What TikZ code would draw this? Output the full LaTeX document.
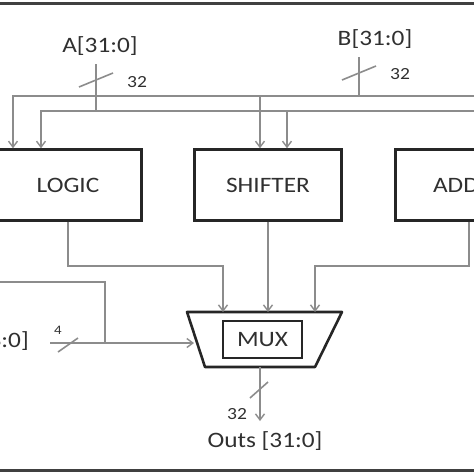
\documentclass[tikz,border=0pt]{standalone}
\usepackage{fontspec}
\setmainfont{Carlito}[FakeStretch=1.15]
\usetikzlibrary{arrows.meta}

\definecolor{wiregray}{HTML}{8C8C8C}
\definecolor{textgray}{HTML}{303030}

\tikzset{
  unit/.style={draw=black!85, line width=2.4pt, minimum width=147pt,
    minimum height=71pt, text=textgray, font=\fontsize{22}{26}\selectfont},
  wire/.style={draw=wiregray, line width=1.6pt},
  bus/.style={wire, -{Straight Barb[length=6pt,width=9pt,line width=1.4pt]}},
  sig/.style={text=textgray, font=\fontsize{22}{26}\selectfont, inner sep=0pt},
  width/.style={text=textgray, font=\fontsize{17}{20}\selectfont, inner sep=0pt}
}

% slash mark on a bus, centred at #1
\newcommand{\busmark}[3]{\draw[wire] (#1) +(-#2pt,-#3pt) -- +(#2pt,#3pt);}

\begin{document}
\begin{tikzpicture}[x=1pt,y=-1pt]

\useasboundingbox (0,0) rectangle (474,474);
\clip (0,0) rectangle (474,474);

% frame lines of the crop
\draw[black!75, line width=3pt] (-5,3) -- (480,3);
\draw[black!75, line width=3pt] (-5,470) -- (480,470);

% function units
\node[unit] (logic) at (68,185) {LOGIC};
\node[unit] (shifter) at (268,185) {SHIFTER};
\node[unit] (adder) at (469,185) {ADDER};

% inputs
\node[sig] (ina) at (100,46) {A[31:0]};
\node[sig] (inb) at (375,39) {B[31:0]};
\node[width] (wa) at (137,82) {32};
\node[width] (wb) at (400,74) {32};

\coordinate (atap) at (96,111);
\coordinate (btap) at (359,96);
\draw[wire] (96,64) -- (atap);
\draw[wire] (359,57) -- (btap);
\busmark{96,80}{17}{7}
\busmark{359,73}{17}{7}

% operand buses
\draw[bus] (490,96) -| ([xshift=-55pt]logic.north);
\draw[bus] (260,96) -- ([xshift=-8pt]shifter.north);
\draw[bus] (490,111) -| ([xshift=-27pt]logic.north);
\draw[bus] (287,111) -- ([xshift=19pt]shifter.north);

% multiplexer
\coordinate (mtl) at (187,312);
\coordinate (mtr) at (342,312);
\coordinate (mbr) at (315,367);
\coordinate (mbl) at (205,367);
\draw[black!85, line width=2.6pt, line join=round]
  (mtl) -- (mtr) -- (mbr) -- (mbl) -- cycle;
\node[draw=black!85, line width=2.4pt, minimum width=79pt, minimum height=37pt,
  text=textgray, font=\fontsize{22}{26}\selectfont] (mux) at (262.5,339.5) {MUX};

% unit outputs into the mux
\draw[bus] (logic.south) |- (223,266) -- (223,312);
\draw[bus] (shifter.south) -- (268,312);
\draw[bus] (adder.south) |- (315,266) -- (315,312);

% select
\node[sig, anchor=east] (sel) at (29,341) {Sel[3:0]};
\node[width, font=\fontsize{13}{15}\selectfont] (ws) at (58,330) {4};
\draw[wire] (-10,282) -| (105,343);
\draw[bus] (50,343) -- (194,343);
\busmark{68,345}{10}{7}

% output
\coordinate (outend) at (260,421);
\draw[bus] (260,367) -- (outend);
\busmark{259,390}{9}{8}
\node[width] (wo) at (237,414) {32};
\node[sig] (outs) at (265,441) {Outs [31:0]};

\end{tikzpicture}
\end{document}
